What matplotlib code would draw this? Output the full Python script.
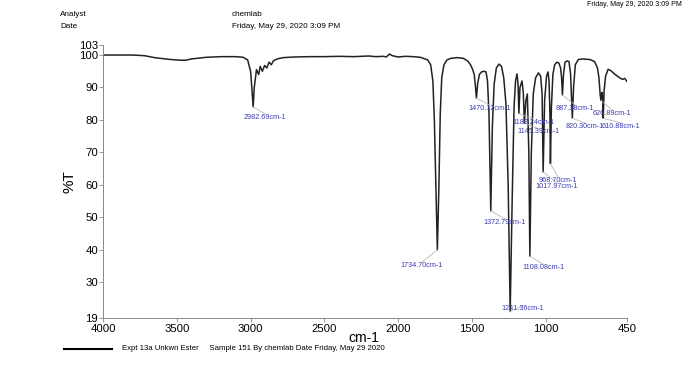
import matplotlib
matplotlib.use("Agg")
import matplotlib.pyplot as plt

plt.rcParams['font.family'] = ['Liberation Sans', 'DejaVu Sans']

# Spectrum (wavenumber cm-1, %T)
wavenumber = [4000, 3900, 3800, 3720, 3650, 3560, 3480, 3440, 3400, 3300, 3200, 3100, 3050,
              3020, 3000, 2990, 2982.69, 2975, 2960, 2945, 2935, 2920, 2905, 2890, 2875, 2860,
              2845, 2820, 2780, 2700, 2600, 2500, 2400, 2300, 2200, 2150, 2100, 2080, 2060,
              2040, 2000, 1950, 1900, 1850, 1800, 1780, 1765, 1755, 1745, 1734.70, 1725,
              1715, 1705, 1690, 1670, 1640, 1600, 1560, 1530, 1510, 1495, 1485, 1478,
              1470.12, 1462, 1450, 1435, 1420, 1405, 1395, 1385, 1372.79, 1362, 1350, 1335,
              1317, 1300, 1285, 1270, 1255, 1241.36, 1228, 1215, 1205, 1195, 1188, 1182.24,
              1175, 1161, 1152, 1145.39, 1135, 1125, 1115, 1108.08, 1098, 1085, 1069, 1050,
              1035, 1025, 1017.97, 1008, 995, 985, 978, 972, 968.70, 962, 952, 940, 925, 911,
              900, 893, 887.38, 880, 870, 855, 843, 832, 825, 820.30, 812, 800, 780, 750,
              700, 670, 650, 640, 632, 626.89, 620, 615, 610.88, 605, 595, 578, 560, 530, 500,
              480, 465, 450]
transmittance = [100.0, 100.0, 100.0, 99.8, 99.2, 98.7, 98.4, 98.4, 98.8, 99.3, 99.5, 99.5, 99.3,
                 98.5, 95.0, 89.0, 84.0, 90.0, 95.5, 94.0, 96.5, 95.0, 96.8, 96.0, 97.8, 97.0,
                 98.2, 98.8, 99.2, 99.4, 99.5, 99.5, 99.6, 99.5, 99.7, 99.5, 99.6, 99.4, 100.3,
                 99.8, 99.4, 99.6, 99.5, 99.3, 98.5, 97.0, 92.0, 80.0, 60.0, 40.0, 58.0,
                 82.0, 93.0, 97.0, 98.5, 99.0, 99.2, 99.0, 98.2, 97.0, 95.5, 94.0, 91.0,
                 86.7, 91.0, 94.0, 94.8, 95.0, 94.8, 92.0, 82.0, 52.0, 78.0, 91.0, 96.0,
                 97.2, 96.5, 93.0, 85.0, 60.0, 21.0, 55.0, 84.0, 92.0, 94.2, 91.0, 82.0,
                 90.0, 92.0, 88.0, 79.0, 86.0, 88.0, 70.0, 38.0, 70.0, 88.0, 93.0, 94.5,
                 93.5, 88.0, 64.0, 86.0, 93.5, 94.8, 92.0, 82.0, 66.5, 84.0, 94.0, 97.0, 97.8, 97.5,
                 96.0, 93.0, 87.7, 94.0, 97.8, 98.2, 98.0, 94.0, 86.0, 80.5, 90.0, 97.0, 98.6, 98.8,
                 98.6, 98.0, 96.0, 93.0, 88.0, 86.0, 88.5, 87.0, 80.5, 89.0, 93.5, 95.6, 95.2, 94.0, 93.0,
                 92.5, 92.8, 91.8]

# Peak annotations: peak wavenumber, %T at tip, label centre (wavenumber, %T)
peak_wn = [2982.69, 1734.70, 1470.12, 1372.79, 1241.36, 1182.24, 1145.39, 1108.08,
           1017.97, 968.70, 887.38, 820.30, 626.89, 610.88]
peak_t = [84.0, 40.0, 86.7, 52.0, 21.0, 82.0, 79.0, 38.0, 64.0, 66.5, 87.7, 80.5, 86.0, 80.5]
label_wn = [2902, 1839, 1378, 1276, 1154, 1087, 1053, 1019, 924, 917, 802, 734, 551, 490]
label_t = [80.9, 35.2, 83.6, 48.5, 21.9, 79.3, 76.4, 34.6, 59.6, 61.5, 83.6, 78.1, 82.1, 78.1]

xticks = [4000, 3500, 3000, 2500, 2000, 1500, 1000, 450]
yticks = [103, 100, 90, 80, 70, 60, 50, 40, 30, 19]

fig = plt.figure(figsize=(7.0, 3.67), dpi=100)
ax = fig.add_axes([0.1471, 0.1335, 0.7486, 0.7431])

ax.plot(wavenumber, transmittance, color="#222222", lw=1.1)

lab_color = "#3b3bb0"
for w, t, lw_, lt in zip(peak_wn, peak_t, label_wn, label_t):
    ax.plot([w, lw_], [t, lt + 1.0], color="#b8b8b8", lw=0.6)
    ax.text(lw_, lt, f"{w:.2f}cm-1", color=lab_color, fontsize=5.2,
            ha="center", va="center")

ax.set_xlim(4000, 450)
ax.set_ylim(19, 103)
ax.set_xticks(xticks)
ax.set_xticklabels([str(v) for v in xticks])
ax.set_yticks(yticks)
ax.set_yticklabels([str(v) for v in yticks])
ax.tick_params(axis="both", labelsize=8.2, length=3, width=0.6, color="#888888", pad=1)
ax.tick_params(axis="y", pad=0.5)
for s in ["top", "right"]:
    ax.spines[s].set_visible(False)
for s in ["left", "bottom"]:
    ax.spines[s].set_color("#888888")
    ax.spines[s].set_linewidth(0.7)

ax.set_xlabel("cm-1", fontsize=10)
ax.xaxis.set_label_coords(0.498, -0.072)
ax.xaxis.label.set_va("center")
ax.set_ylabel("%T", fontsize=11, labelpad=2)

fig.text(60 / 700, 1 - 14 / 367, "Analyst", fontsize=5.9, va="center", ha="left")
fig.text(60 / 700, 1 - 27 / 367, "Date", fontsize=5.9, va="center", ha="left")
fig.text(232 / 700, 1 - 14 / 367, "chemlab", fontsize=5.9, va="center", ha="left")
fig.text(232 / 700, 1 - 27 / 367, "Friday, May 29, 2020 3:09 PM", fontsize=5.9, va="center", ha="left")
fig.text(682 / 700, 1 - 5 / 367, "Friday, May 29, 2020 3:09 PM", fontsize=5.0, va="center", ha="right")

fig.add_artist(plt.Line2D([64 / 700, 112 / 700], [1 - 349 / 367, 1 - 349 / 367],
                          color="black", lw=1.5))
fig.text(122 / 700, 1 - 349 / 367,
         "Expt 13a Unkwn Ester     Sample 151 By chemlab Date Friday, May 29 2020",
         fontsize=5.6, va="center", ha="left")

fig.savefig("out.png", dpi=100)
